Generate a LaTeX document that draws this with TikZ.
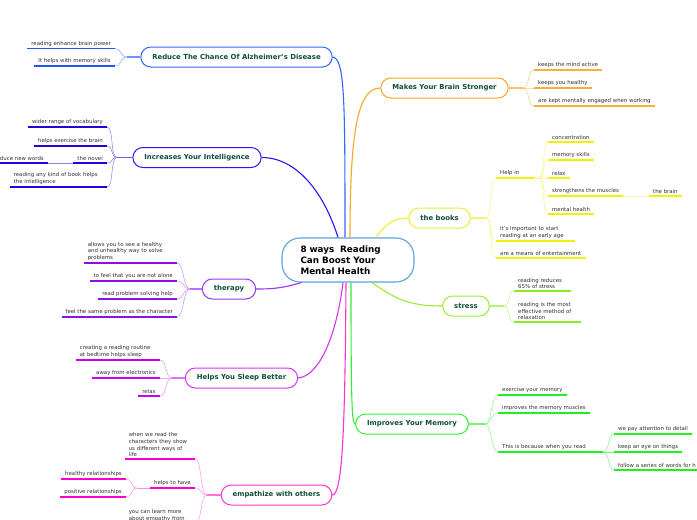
\documentclass[tikz,border=0pt]{standalone}
\usepackage{fontspec}
\setmainfont{DejaVu Sans}
\definecolor{ttl}{HTML}{0E4D3B}
\definecolor{txt}{HTML}{333333}
\definecolor{ccenter}{HTML}{5BA3DC}
\definecolor{calz}{HTML}{3366FF}
\definecolor{calzU}{HTML}{2255EE}
\definecolor{cbrain}{HTML}{F5A623}
\definecolor{cbrainU}{HTML}{F7AE3A}
\definecolor{cint}{HTML}{3311EE}
\definecolor{cintU}{HTML}{2200DD}
\definecolor{cther}{HTML}{9933FF}
\definecolor{ctherU}{HTML}{8811EE}
\definecolor{csleep}{HTML}{D633F5}
\definecolor{csleepU}{HTML}{CC00EE}
\definecolor{cemp}{HTML}{FF33CC}
\definecolor{cempU}{HTML}{FF00CC}
\definecolor{cbooks}{HTML}{EEEE33}
\definecolor{cbooksU}{HTML}{F2F200}
\definecolor{cstress}{HTML}{99EE33}
\definecolor{cstressU}{HTML}{88EE22}
\definecolor{cmem}{HTML}{33EE33}
\definecolor{cmemU}{HTML}{22EE22}
\begin{document}
\begin{tikzpicture}[x=1pt,y=-1pt,
  topic/.style={draw=#1, line width=1pt, fill=white, rounded corners=10pt,
    minimum height=20pt, inner xsep=11.5pt, inner ysep=0pt,
    font=\fontsize{6.9}{8}\selectfont\bfseries, text=ttl},
  lbl/.style={font=\fontsize{5.4}{6.7}\selectfont, text=txt, inner xsep=4pt, inner ysep=2pt, align=left},
  lblL/.style={lbl, anchor=south east},
  lblR/.style={lbl, anchor=south west},
  ul/.style={line width=1.3pt},
  br/.style={line width=1.1pt},
  tw/.style={line width=0.5pt}]
\path[fill=white] (0,0) rectangle (697,520);
\useasboundingbox (0,0) rectangle (697,520);

% central topic
\node[draw=ccenter, line width=1.1pt, fill=white, rounded corners=18pt,
  minimum width=132pt, minimum height=44pt, text width=95pt, align=left,
  font=\fontsize{8.8}{11}\selectfont\bfseries] (c) at (348,260)
  {8 ways\ \ Reading\\Can Boost Your\\Mental Health};

% main topics
\node[topic=calz] (alz) at (236.5,57) {Reduce The Chance Of Alzheimer’s Disease};
\node[topic=cbrain] (brain) at (444.5,88) {Makes Your Brain Stronger};
\node[topic=cint] (intel) at (197,157.5) {Increases Your Intelligence};
\node[topic=cther] (ther) at (229,289) {therapy};
\node[topic=csleep] (sleep) at (241.5,378) {Helps You Sleep Better};
\node[topic=cemp] (emp) at (276.5,495) {empathize with others};
\node[topic=cbooks] (books) at (439.5,218) {the books};
\node[topic=cstress] (stress) at (466,306) {stress};
\node[topic=cmem] (mem) at (412,424) {Improves Your Memory};

% main connectors
\draw[br,calz] ([xshift=-3pt]c.north) .. controls +(0,-140) and +(12,2) .. (alz.east);
\draw[br,cbrain] ([xshift=2pt]c.north) .. controls +(0,-110) and +(-22,0) .. (brain.west);
\draw[br,cint] ([xshift=-10pt]c.north) .. controls +(-14,-45) and +(35,0) .. (intel.east);
\draw[br,cbooks] ([xshift=28pt]c.north) .. controls +(8,-12) and +(-15,0) .. (books.west);
\draw[br,cther] ([xshift=20pt]c.south west) .. controls +(-20,6) and +(15,0) .. (ther.east);
\draw[br,csleep] ([xshift=-5pt]c.south) .. controls +(-6,50) and +(22,-2) .. (sleep.east);
\draw[br,cemp] ([xshift=-2pt]c.south) .. controls +(-1,150) and +(10,0) .. (emp.east);
\draw[br,cmem] ([xshift=3pt]c.south) .. controls +(0,130) and +(-3,-2) .. (mem.west);
\draw[br,cstress] ([xshift=24pt]c.south) .. controls +(25,18) and +(-30,0) .. (stress.west);

% ---- Alzheimer children
\coordinate (alzF) at (127,57);
\node[lblL] (a1) at (115,48.7) {reading enhance brain power};
\node[lblL] (a2) at (115,66) {It helps with memory skills};
\draw[br,calz!70] (alz.west) -- (alzF);
\foreach \n in {a1,a2}
  \draw[tw,calz!60] (alzF) .. controls +(-7,0) and +(7,0) .. (\n.south east);

% ---- Brain children
\coordinate (brF) at (523,88);
\node[lblR] (m1) at (534,70) {keeps the mind active};
\node[lblR] (m2) at (534,88) {keeps you healthy};
\node[lblR] (m3) at (534,106) {are kept mentally engaged when working};
\draw[br,cbrain!70] (brain.east) -- (brF);
\foreach \n in {m1,m2,m3}
  \draw[tw,cbrain!60] (brF) .. controls +(7,0) and +(-7,0) .. (\n.south west);

% ---- Intelligence children
\coordinate (inF) at (117,157.5);
\node[lblL] (i1) at (107,127) {wider range of vocabulary};
\node[lblL] (i2) at (107,146) {helps exercise the brain};
\node[lblL] (i3) at (107,163) {the novel};
\node[lblL] (i3a) at (48,163) {introduce new words};
\node[lblL,text width=89pt] (i4) at (107,187) {reading any kind of book helps\\the intelligence};
\draw[br,cint!70] (intel.west) -- (inF);
\foreach \n in {i1,i2,i3,i4}
  \draw[tw,cint!55] (inF) .. controls +(-7,0) and +(7,0) .. (\n.south east);
\draw[tw,cint!55] (i3.south west) -- (i3a.south east);

% ---- Therapy children
\coordinate (thF) at (190,289);
\node[lblL,text width=85pt] (t1) at (177,263) {allows you to see a healthy\\and unhealthy way to solve\\problems};
\node[lblL] (t2) at (177,281) {to feel that you are not alone};
\node[lblL] (t3) at (177,299) {read problem solving help};
\node[lblL] (t4) at (177,317) {feel the same problem as the character};
\draw[br,cther!70] (ther.west) -- (thF);
\foreach \n in {t1,t2,t3,t4}
  \draw[tw,cther!55] (thF) .. controls +(-7,0) and +(7,0) .. (\n.south east);

% ---- Sleep children
\coordinate (slF) at (172,378);
\node[lblL,text width=76pt] (s1) at (160,360) {creating a reading routine\\at bedtime helps sleep};
\node[lblL] (s2) at (160,378) {away from electronics};
\node[lblL] (s3) at (160,396) {relax};
\draw[br,csleep!70] (sleep.west) -- (slF);
\foreach \n in {s1,s2,s3}
  \draw[tw,csleep!55] (slF) .. controls +(-7,0) and +(7,0) .. (\n.south east);

% ---- Empathize children
\coordinate (emF) at (207,495);
\node[lblL,text width=62pt] (e1) at (195,459) {when we read the\\characters they show\\us different ways of\\life};
\node[lblL] (e2) at (195,488) {helps to have};
\node[lblL,text width=62pt] (e3) at (195,524) {you can learn more\\about empathy from};
\coordinate (e2F) at (137,488);
\node[lblL] (e2a) at (126,479) {healthy relationships};
\node[lblL] (e2b) at (126,497) {positive relationships};
\draw[br,cemp!70] (emp.west) -- (emF);
\foreach \n in {e1,e2,e3}
  \draw[tw,cemp!55] (emF) .. controls +(-7,0) and +(7,0) .. (\n.south east);
\draw[tw,cemp!55] (e2.south west) -- (e2F);
\foreach \n in {e2a,e2b}
  \draw[tw,cemp!55] (e2F) .. controls +(-7,0) and +(7,0) .. (\n.south east);

% ---- Books children
\coordinate (bkF) at (486,218);
\node[lblR,text width=31pt] (b1) at (496,178) {Help in};
\node[lblR,text width=71pt] (b2) at (496,241) {it's important to start\\reading at an early age};
\node[lblR] (b3) at (496,258) {are a means of entertainment};
\draw[br,cbooks!70] (books.east) -- (bkF);
\foreach \n in {b1,b2,b3}
  \draw[tw,cbooks!60] (bkF) .. controls +(7,0) and +(-7,0) .. (\n.south west);
\coordinate (b1F) at (539,178);
\node[lblR] (ba) at (548,142) {concentration};
\node[lblR] (bb) at (548,160) {memory skills};
\node[lblR] (bc) at (548,178) {relax};
\node[lblR] (bd) at (548,196) {strengthens the muscles};
\node[lblR] (be) at (548,214) {mental health};
\node[lblR] (bd1) at (649,196) {the brain};
\draw[tw,cbooks!60] (b1.south east) -- (b1F);
\foreach \n in {ba,bb,bc,bd,be}
  \draw[tw,cbooks!60] (b1F) .. controls +(6,0) and +(-6,0) .. (\n.south west);
\draw[tw,cbooks!40] (bd.south east) -- (bd1.south west);

% ---- Stress children
\coordinate (stF) at (504,306);
\node[lblR,text width=49pt] (st1) at (514,291) {reading reduces\\65\% of stress};
\node[lblR,text width=59pt] (st2) at (514,322) {reading is the most\\effective method of\\relaxation};
\draw[br,cstress!70] (stress.east) -- (stF);
\foreach \n in {st1,st2}
  \draw[tw,cstress!60] (stF) .. controls +(7,0) and +(-7,0) .. (\n.south west);

% ---- Memory children
\coordinate (meF) at (485,424);
\node[lblR] (me1) at (498,395) {exercise your memory};
\node[lblR] (me2) at (498,413) {improves the memory muscles};
\node[lblR,text width=97pt] (me3) at (498,452) {This is because when you read};
\draw[br,cmem!70] (mem.east) -- (meF);
\foreach \n in {me1,me2,me3}
  \draw[tw,cmem!60] (meF) .. controls +(7,0) and +(-7,0) .. (\n.south west);
\node[lblR] (mea) at (614,434) {we pay attention to detail};
\node[lblR] (meb) at (614,452) {keep an eye on things};
\node[lblR] (mec) at (614,470) {follow a series of words for h};
\foreach \n in {mea,meb,mec}
  \draw[tw,cmem!60] (me3.south east) .. controls +(6,0) and +(-6,0) .. (\n.south west);

% ---- underlines
\foreach \n/\col in {a1/calzU,a2/calzU,
  m1/cbrainU,m2/cbrainU,m3/cbrainU,
  i1/cintU,i2/cintU,i3/cintU,i3a/cintU,i4/cintU,
  t1/ctherU,t2/ctherU,t3/ctherU,t4/ctherU,
  s1/csleepU,s2/csleepU,s3/csleepU,
  e1/cempU,e2/cempU,e3/cempU,e2a/cempU,e2b/cempU,
  b1/cbooksU,b2/cbooksU,b3/cbooksU,ba/cbooksU,bb/cbooksU,bc/cbooksU,bd/cbooksU,be/cbooksU,bd1/cbooksU,
  st1/cstressU,st2/cstressU,
  me1/cmemU,me2/cmemU,me3/cmemU,mea/cmemU,meb/cmemU,mec/cmemU}
  \draw[ul,\col] (\n.south west) -- (\n.south east);
\end{tikzpicture}
\end{document}
